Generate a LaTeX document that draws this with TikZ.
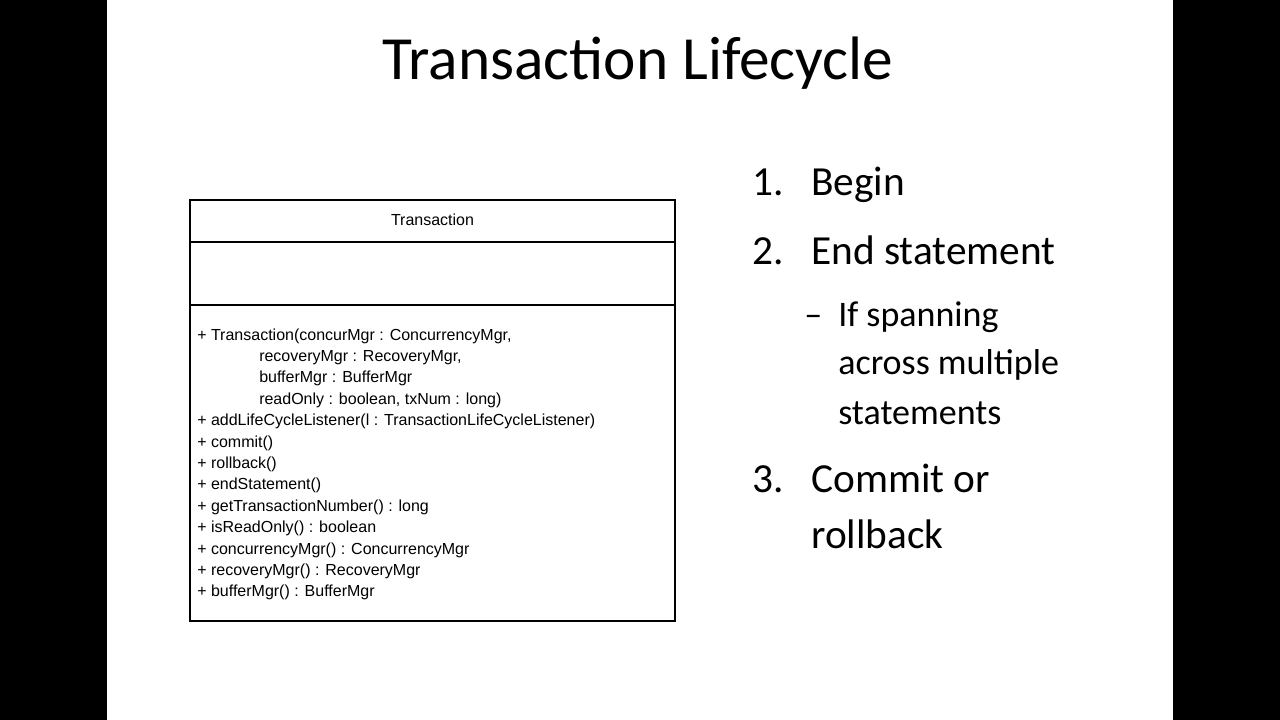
\documentclass[tikz,border=0pt]{standalone}
\usepackage{fontspec}
\setmainfont{Carlito}
\newfontfamily\uml{Liberation Sans}
\begin{document}
\begin{tikzpicture}[x=0.75pt,y=-0.75pt,
  title/.style={anchor=base,font=\fontsize{46}{50}\selectfont,inner sep=0},
  item/.style={anchor=base west,font=\fontsize{31}{36}\selectfont,inner sep=0},
  sub/.style={anchor=base west,font=\fontsize{27}{32}\selectfont,inner sep=0},
  meth/.style={anchor=base west,font=\uml\fontsize{12}{14}\selectfont,inner sep=0}]
\useasboundingbox (0,0) rectangle (1280,720);
\fill[black] (0,0) rectangle (107,720);
\fill[black] (1173,0) rectangle (1280,720);
\node[title] (t) at (638,80) {Transaction Lifecycle};
% UML box
\draw[line width=0.9pt] (190,200) rectangle (675,621);
\draw[line width=0.9pt] (190,242) -- (675,242);
\draw[line width=0.9pt] (190,305) -- (675,305);
\node[meth,anchor=base] (cn) at (432.5,226) {Transaction};
\foreach \i/\x/\s in {0/197/{+ Transaction(concurMgr : ConcurrencyMgr,},
  1/259/{recoveryMgr : RecoveryMgr,},
  2/259/{bufferMgr : BufferMgr},
  3/259/{readOnly : boolean, txNum : long)},
  4/197/{+ addLifeCycleListener(l : TransactionLifeCycleListener)},
  5/197/{+ commit()},
  6/197/{+ rollback()},
  7/197/{+ endStatement()},
  8/197/{+ getTransactionNumber() : long},
  9/197/{+ isReadOnly() : boolean},
  10/197/{+ concurrencyMgr() : ConcurrencyMgr},
  11/197/{+ recoveryMgr() : RecoveryMgr},
  12/197/{+ bufferMgr() : BufferMgr}}
  \node[meth] (m\i) at (\x,{340+21.4*\i}) {\s};
% list
\node[item] (n1) at (752,196) {1.};
\node[item] (i1) at (811,196) {Begin};
\node[item] (n2) at (752,264) {2.};
\node[item] (i2) at (811,264) {End statement};
\node[sub] (d1) at (804,326) {–};
\node[sub] (s1) at (838,326) {If spanning};
\node[sub] (s2) at (838,374) {across multiple};
\node[sub] (s3) at (838,424) {statements};
\node[item] (n3) at (752,492) {3.};
\node[item] (i3) at (811,492) {Commit or};
\node[item] (i4) at (811,548) {rollback};
\end{tikzpicture}
\end{document}
